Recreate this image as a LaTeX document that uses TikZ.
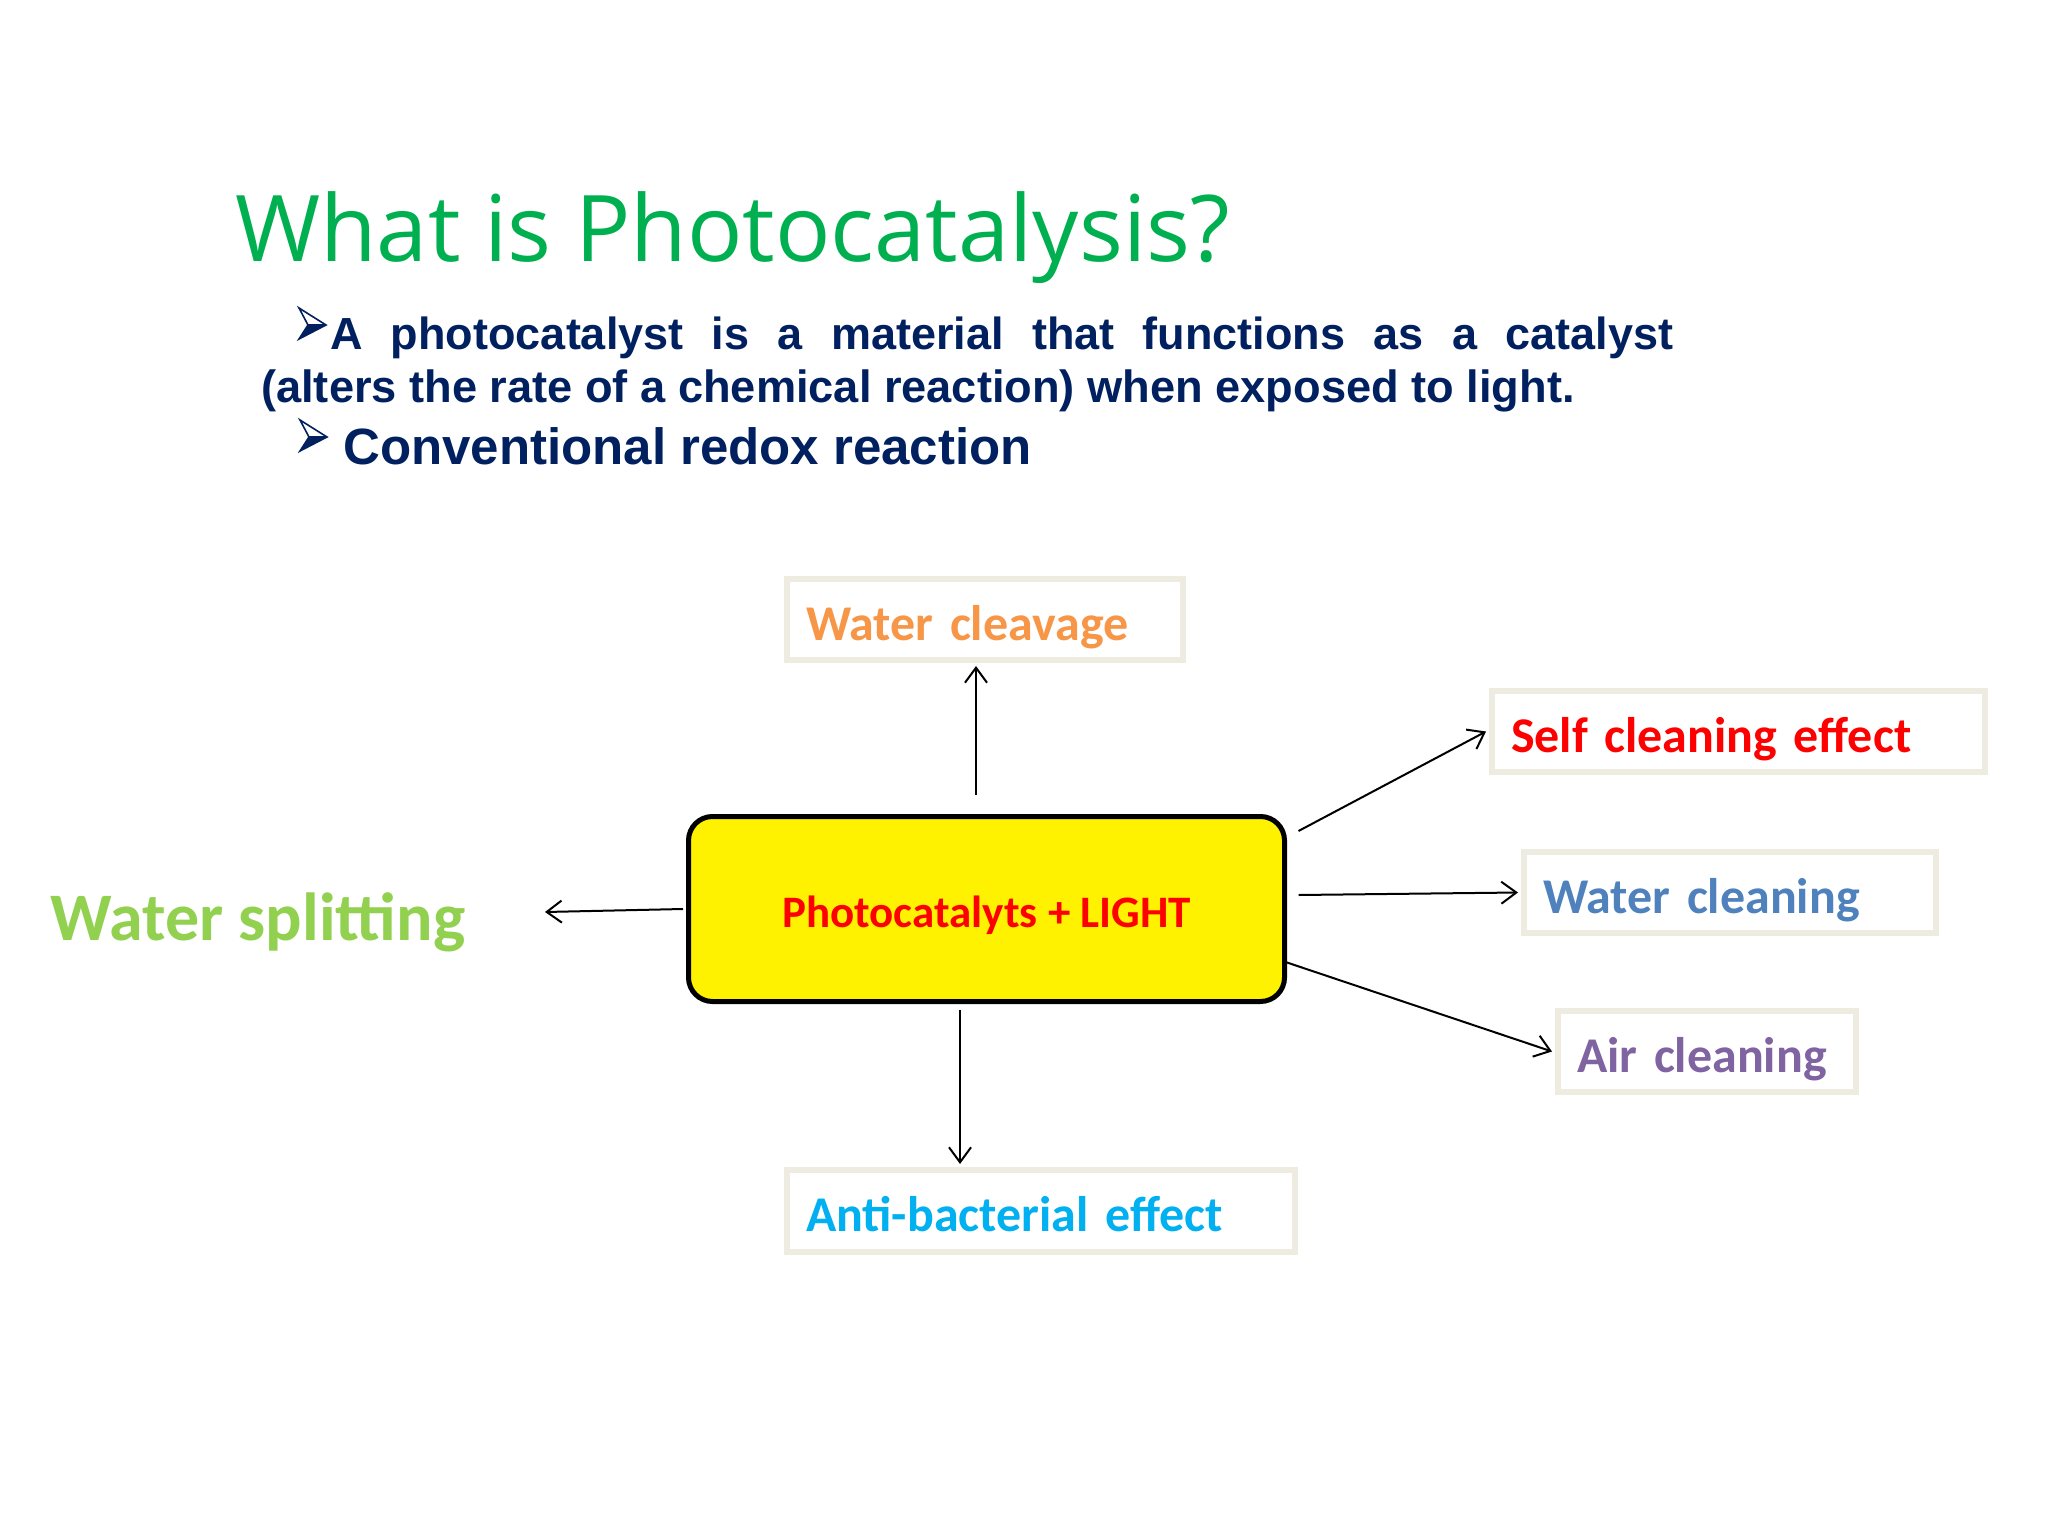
\documentclass[tikz,border=0pt]{standalone}
\usepackage{fontspec}
\setmainfont{Liberation Sans}
\newfontfamily\titlefont{Open Sans}
\newfontfamily\calfont{Carlito}
\usetikzlibrary{arrows.meta}
\definecolor{titlegreen}{HTML}{00B050}
\definecolor{navy}{HTML}{002060}
\definecolor{lborange}{HTML}{F79646}
\definecolor{lbred}{HTML}{FF0000}
\definecolor{lbblue}{HTML}{4F81BD}
\definecolor{lbpurple}{HTML}{8064A2}
\definecolor{lbcyan}{HTML}{00B0F0}
\definecolor{lbgreen}{HTML}{92D050}
\definecolor{boxgray}{HTML}{EEECE1}
\begin{document}
\begin{tikzpicture}[x=1pt,y=-1pt,
  obox/.style={draw=boxgray, line width=6pt, fill=white, inner xsep=19pt, inner ysep=0pt,
    text height=41pt, text depth=0pt, align=left, anchor=north west,
    font=\calfont\bfseries\fontsize{50}{60}\selectfont},
  cboxstyle/.style={draw=black, line width=5pt, fill=yellow, rounded corners=24pt,
    text height=36pt, text depth=0pt, text=lbred,
    font=\calfont\bfseries\fontsize{45}{54}\selectfont},
  arr/.style={draw=black, line width=2pt, -{Straight Barb[length=15pt,width=22pt,line width=2pt]}},
  bodytxt/.style={inner sep=0pt, anchor=base west, text=navy},
  navbullet/.pic={
    \fill[navy] (0,0) -- (18,0) -- (-9,14) -- cycle;
    \draw[navy, line width=1.6pt, line join=miter] (-9,-17) -- (18,0) -- (-9,14) -- (0,0) -- cycle;
    \draw[navy, line width=1.2pt] (0,0) -- (18,0);
  }
]
\useasboundingbox[fill=white] (0,0) rectangle (2048,1536);

% title
\node[inner sep=0pt, anchor=base west, text=titlegreen, font=\titlefont\fontsize{92}{110}\selectfont] (title) at (235,261) {What is Photocatalysis?};

% bullets and body text
\pic at (308,325) {navbullet};
\node[bodytxt, font=\bfseries\fontsize{45}{54}\selectfont] (l1) at (330,349)
  {\hbox to 1343pt{\spaceskip=12pt plus 1fil\relax A photocatalyst is a material that functions as a catalyst}};
\node[bodytxt, font=\bfseries\fontsize{45.2}{54}\selectfont] (l2) at (261,402)
  {(alters the rate of a chemical reaction) when exposed to light.};
\pic at (309,437) {navbullet};
\node[bodytxt, font=\bfseries\fontsize{51}{60}\selectfont] (l3) at (343,464)
  {Conventional redox reaction};

% center box
\node[cboxstyle, minimum width=596pt, minimum height=185pt] (cbox) at (986.5,909) {Photocatalyts + LIGHT};

% outer boxes
\node[obox, text=lborange, text width=358pt, minimum height=81pt] (wcv) at (784,576) {Water cleavage};
\node[obox, text=lbred, text width=455pt, minimum height=81pt] (self) at (1489,688) {Self cleaning effect};
\node[obox, text=lbblue, text width=374pt, minimum height=81pt] (wcln) at (1521,849) {Water cleaning};
\node[obox, text=lbpurple, text width=260pt, minimum height=81pt] (air) at (1555,1008) {Air cleaning};
\node[obox, text=lbcyan, text width=470pt, minimum height=82pt] (anti) at (784,1167) {Anti-bacterial effect};

% water splitting
\node[inner sep=0pt, anchor=base west, text=lbgreen, font=\calfont\bfseries\fontsize{68}{80}\selectfont] (ws) at (50,940) {Water splitting};
\coordinate (wstip) at (545,912);

% connectors
\draw[arr] ([xshift=-10.5pt,yshift=19pt]cbox.north) coordinate (u0) -- ([yshift=-3pt]u0 |- wcv.south);
\draw[arr] ([xshift=-26.5pt,yshift=-6pt]cbox.south) coordinate (d0) -- ([yshift=3pt]d0 |- anti.north);
\draw[arr] ([xshift=-3pt]cbox.west) -- (wstip);
\draw[arr] ([xshift=11.5pt,yshift=78pt]cbox.east) -- ([xshift=-3pt]self.west);
\draw[arr] ([xshift=11.5pt,yshift=14pt]cbox.east) -- ([xshift=-3pt]wcln.west);
\draw[arr] ([xshift=-4.5pt,yshift=-52pt]cbox.east) -- ([xshift=-3pt]air.west);
\end{tikzpicture}
\end{document}
